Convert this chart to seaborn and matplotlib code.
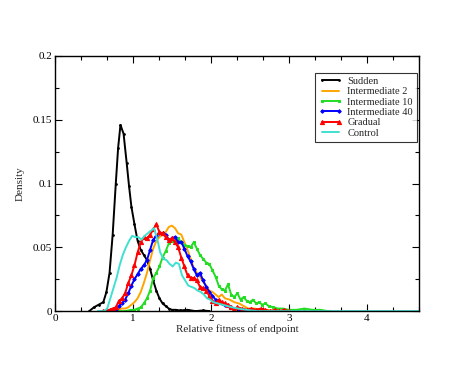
import matplotlib
matplotlib.use("Agg")
import matplotlib.pyplot as plt
import seaborn as sns
import pandas as pd
from matplotlib.ticker import MultipleLocator, FuncFormatter

# ---- data ----
sudden_x = [0.44, 0.50, 0.56, 0.62, 0.66, 0.70, 0.74, 0.78, 0.81, 0.84, 0.88, 0.92, 0.95, 0.98,
            1.02, 1.06, 1.10, 1.14, 1.18, 1.22, 1.26, 1.30, 1.34, 1.38, 1.42, 1.46, 1.50, 1.55,
            1.60, 1.70, 1.80, 1.90, 1.98]
sudden_y = [0.000, 0.003, 0.005, 0.007, 0.015, 0.030, 0.060, 0.100, 0.128, 0.146, 0.139, 0.116,
            0.098, 0.082, 0.068, 0.055, 0.048, 0.044, 0.040, 0.033, 0.024, 0.016, 0.010, 0.006,
            0.004, 0.002, 0.001, 0.001, 0.0005, 0.001, 0.000, 0.0005, 0.000]

inter2_x = [0.72, 0.80, 0.86, 0.90, 0.94, 0.98, 1.02, 1.06, 1.10, 1.14, 1.18, 1.22, 1.26, 1.30,
            1.34, 1.38, 1.42, 1.46, 1.50, 1.54, 1.58, 1.62, 1.66, 1.70, 1.74, 1.78, 1.82, 1.86,
            1.90, 1.94, 1.98, 2.02, 2.06, 2.10, 2.14, 2.18, 2.24, 2.30, 2.36, 2.42, 2.48, 2.56,
            2.64, 2.72, 2.80]
inter2_y = [0.000, 0.001, 0.002, 0.002, 0.003, 0.005, 0.007, 0.010, 0.015, 0.022, 0.030, 0.040,
            0.049, 0.055, 0.058, 0.060, 0.062, 0.066, 0.067, 0.065, 0.061, 0.060, 0.054, 0.048,
            0.041, 0.034, 0.030, 0.027, 0.023, 0.020, 0.016, 0.015, 0.013, 0.011, 0.013, 0.010,
            0.009, 0.007, 0.006, 0.004, 0.002, 0.002, 0.001, 0.001, 0.000]

inter10_x = [0.80, 0.90, 0.98, 1.02, 1.06, 1.10, 1.14, 1.18, 1.22, 1.26, 1.30, 1.34, 1.38, 1.42,
             1.46, 1.50, 1.54, 1.58, 1.62, 1.66, 1.70, 1.74, 1.78, 1.82, 1.86, 1.90, 1.94, 1.98,
             2.02, 2.06, 2.10, 2.14, 2.18, 2.22, 2.26, 2.30, 2.34, 2.38, 2.42, 2.46, 2.50, 2.54,
             2.58, 2.62, 2.66, 2.70, 2.74, 2.80, 2.86, 2.92, 3.00, 3.10, 3.20, 3.30, 3.40, 3.50]
inter10_y = [0.000, 0.000, 0.001, 0.001, 0.002, 0.003, 0.006, 0.010, 0.016, 0.026, 0.030, 0.035,
             0.042, 0.047, 0.053, 0.055, 0.054, 0.057, 0.054, 0.052, 0.051, 0.050, 0.054, 0.049,
             0.044, 0.041, 0.038, 0.037, 0.032, 0.027, 0.020, 0.017, 0.016, 0.021, 0.013, 0.011,
             0.014, 0.009, 0.011, 0.008, 0.007, 0.009, 0.006, 0.007, 0.005, 0.006, 0.004, 0.003,
             0.002, 0.002, 0.001, 0.001, 0.002, 0.001, 0.001, 0.000]

inter40_x = [0.66, 0.74, 0.78, 0.82, 0.86, 0.90, 0.94, 0.98, 1.02, 1.06, 1.10, 1.14, 1.18, 1.22,
             1.26, 1.30, 1.34, 1.38, 1.42, 1.46, 1.50, 1.54, 1.58, 1.62, 1.66, 1.70, 1.74, 1.78,
             1.82, 1.86, 1.90, 1.94, 1.98, 2.02, 2.06, 2.10, 2.14, 2.18, 2.24, 2.30, 2.36, 2.42,
             2.50, 2.60, 2.70]
inter40_y = [0.000, 0.001, 0.002, 0.004, 0.006, 0.009, 0.014, 0.020, 0.025, 0.029, 0.033, 0.036,
             0.040, 0.048, 0.056, 0.059, 0.061, 0.061, 0.060, 0.056, 0.057, 0.058, 0.054, 0.054,
             0.049, 0.043, 0.039, 0.033, 0.028, 0.030, 0.024, 0.019, 0.015, 0.012, 0.009, 0.007,
             0.006, 0.005, 0.003, 0.002, 0.002, 0.001, 0.001, 0.000, 0.000]

gradual_x = [0.62, 0.70, 0.74, 0.78, 0.82, 0.86, 0.90, 0.94, 0.98, 1.02, 1.06, 1.10, 1.14, 1.18,
             1.22, 1.26, 1.30, 1.34, 1.38, 1.42, 1.46, 1.50, 1.54, 1.58, 1.62, 1.66, 1.70, 1.74,
             1.78, 1.82, 1.86, 1.90, 1.94, 1.98, 2.02, 2.06, 2.10, 2.14, 2.18, 2.22, 2.26, 2.30,
             2.34, 2.40, 2.46, 2.52, 2.58, 2.64, 2.70, 2.76, 2.82, 2.88, 2.94, 3.00]
gradual_y = [0.000, 0.001, 0.002, 0.003, 0.008, 0.010, 0.014, 0.022, 0.028, 0.036, 0.046, 0.054,
             0.058, 0.057, 0.060, 0.064, 0.068, 0.062, 0.061, 0.058, 0.056, 0.057, 0.054, 0.050,
             0.042, 0.035, 0.028, 0.026, 0.026, 0.024, 0.019, 0.018, 0.016, 0.012, 0.008, 0.006,
             0.009, 0.007, 0.006, 0.005, 0.003, 0.002, 0.003, 0.002, 0.001, 0.002, 0.001, 0.002,
             0.001, 0.000, 0.001, 0.000, 0.001, 0.000]

control_x = [0.55, 0.63, 0.67, 0.71, 0.75, 0.79, 0.83, 0.87, 0.91, 0.95, 0.99, 1.03, 1.07, 1.11,
             1.15, 1.19, 1.23, 1.27, 1.31, 1.35, 1.39, 1.43, 1.47, 1.51, 1.55, 1.59, 1.63, 1.67,
             1.71, 1.75, 1.79, 1.83, 1.87, 1.91, 1.95, 1.99, 2.03, 2.09, 2.15, 2.21, 2.27, 2.35,
             2.45, 2.60, 3.00, 4.70]
control_y = [0.000, 0.000, 0.002, 0.010, 0.018, 0.026, 0.036, 0.044, 0.050, 0.055, 0.059, 0.058,
             0.058, 0.056, 0.059, 0.061, 0.063, 0.065, 0.057, 0.046, 0.041, 0.040, 0.037, 0.035,
             0.038, 0.037, 0.028, 0.024, 0.020, 0.019, 0.018, 0.016, 0.015, 0.013, 0.010, 0.009,
             0.007, 0.006, 0.005, 0.004, 0.003, 0.002, 0.001, 0.000, 0.000, 0.000]

labels = ["Sudden", "Intermediate 2", "Intermediate 10", "Intermediate 40", "Gradual", "Control"]
xticks = [0, 1, 2, 3, 4]
yticks = [0, 0.05, 0.1, 0.15, 0.2]

series = [
    (sudden_x, sudden_y, "#000000", "o", 1.2),
    (inter2_x, inter2_y, "#FFA500", None, 0),
    (inter10_x, inter10_y, "#22DD22", "s", 1.6),
    (inter40_x, inter40_y, "#0000FF", "D", 1.8),
    (gradual_x, gradual_y, "#FF0000", "^", 3.0),
    (control_x, control_y, "#40E0D0", None, 0),
]

sns.set_style("ticks")
plt.rcParams["font.family"] = ["Liberation Serif", "DejaVu Serif"]

fig = plt.figure(figsize=(4.74, 3.66), dpi=100)
ax = fig.add_axes([0.116, 0.150, 0.768, 0.697])

for (xs, ys, col, mk, ms), lab in zip(series, labels):
    df = pd.DataFrame({"x": xs, "y": ys})
    kw = dict(marker=mk, markersize=ms, markeredgecolor=col, markerfacecolor=col) if mk else {}
    sns.lineplot(data=df, x="x", y="y", ax=ax, color=col, linewidth=1.4,
                 label=lab, sort=False, estimator=None, **kw)

ax.set_xlim(0, 4.67)
ax.set_ylim(0, 0.2)
ax.set_xticks(xticks)
ax.set_yticks(yticks)
ax.xaxis.set_minor_locator(MultipleLocator(1 / 3))
ax.yaxis.set_minor_locator(MultipleLocator(0.025))
ax.yaxis.set_major_formatter(FuncFormatter(lambda v, p: "%g" % v))
ax.xaxis.set_major_formatter(FuncFormatter(lambda v, p: "%g" % v))
ax.tick_params(which="both", direction="in", top=True, right=True, colors="black",
               labelsize=8, width=0.8)
ax.tick_params(which="major", length=5)
ax.tick_params(which="minor", length=3)
ax.tick_params(axis="x", pad=2)
ax.tick_params(axis="y", pad=2)
for s in ax.spines.values():
    s.set_visible(True)
    s.set_color("black")
    s.set_linewidth(1.0)

ax.set_xlabel("Relative fitness of endpoint", fontsize=8, labelpad=1)
ax.set_ylabel("Density", fontsize=8, labelpad=6)

leg = ax.legend(loc="upper right", bbox_to_anchor=(0.995, 0.935), fontsize=7.5,
                frameon=True, fancybox=False, handlelength=2.2, handletextpad=0.5,
                borderpad=0.4, labelspacing=0.1, numpoints=2, borderaxespad=0)
leg.get_frame().set_edgecolor("black")
leg.get_frame().set_linewidth(0.8)

fig.savefig("out.png", dpi=100)
